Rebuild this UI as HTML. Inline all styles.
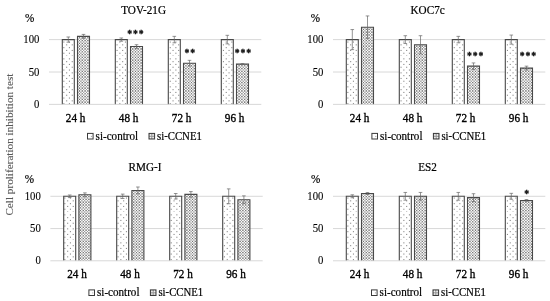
<!DOCTYPE html>
<html><head><meta charset="utf-8"><title>figure</title>
<style>
html,body{margin:0;padding:0;background:#fff;}
svg{display:block}
text{font-family:"Liberation Serif","Times New Roman",serif;font-size:11.2px;fill:#000;stroke:#000;stroke-width:0.2px}
.tk{stroke-width:0.1px}
.xl{stroke-width:0.32px}
.yl{fill:#595959;stroke:#595959;stroke-width:0.1px}
.st{font-weight:bold;font-size:21px;letter-spacing:2px;stroke-width:0.5px}
.g{stroke:#d4d4d4;stroke-width:0.9;fill:none}
.b{stroke:#484848;stroke-width:1.1}
.e{stroke:#666;stroke-width:0.7;fill:none}
.lb{stroke:#3a3a3a;stroke-width:1}
</style></head><body>
<svg width="550" height="301" viewBox="0 0 550 301">
<defs>
<filter id="soft" x="0" y="0" width="550" height="301" filterUnits="userSpaceOnUse"><feGaussianBlur stdDeviation="0.3"/></filter>
<pattern id="p1" width="28.0" height="28.0" patternUnits="userSpaceOnUse"><rect width="28.0" height="28.0" fill="#fff"/><rect x="1.70" y="2.30" width="1.1" height="1.1" fill="#8a8a8a"/><rect x="1.70" y="7.90" width="1.1" height="1.1" fill="#8a8a8a"/><rect x="1.70" y="13.50" width="1.1" height="1.1" fill="#8a8a8a"/><rect x="1.70" y="19.10" width="1.1" height="1.1" fill="#8a8a8a"/><rect x="1.70" y="24.70" width="1.1" height="1.1" fill="#8a8a8a"/><rect x="1.70" y="30.30" width="1.1" height="1.1" fill="#8a8a8a"/><rect x="4.50" y="5.10" width="1.1" height="1.1" fill="#8a8a8a"/><rect x="4.50" y="10.70" width="1.1" height="1.1" fill="#8a8a8a"/><rect x="4.50" y="16.30" width="1.1" height="1.1" fill="#8a8a8a"/><rect x="4.50" y="21.90" width="1.1" height="1.1" fill="#8a8a8a"/><rect x="4.50" y="27.50" width="1.1" height="1.1" fill="#8a8a8a"/><rect x="7.30" y="2.30" width="1.1" height="1.1" fill="#8a8a8a"/><rect x="7.30" y="7.90" width="1.1" height="1.1" fill="#8a8a8a"/><rect x="7.30" y="13.50" width="1.1" height="1.1" fill="#8a8a8a"/><rect x="7.30" y="19.10" width="1.1" height="1.1" fill="#8a8a8a"/><rect x="7.30" y="24.70" width="1.1" height="1.1" fill="#8a8a8a"/><rect x="7.30" y="30.30" width="1.1" height="1.1" fill="#8a8a8a"/><rect x="10.10" y="5.10" width="1.1" height="1.1" fill="#8a8a8a"/><rect x="10.10" y="10.70" width="1.1" height="1.1" fill="#8a8a8a"/><rect x="10.10" y="16.30" width="1.1" height="1.1" fill="#8a8a8a"/><rect x="10.10" y="21.90" width="1.1" height="1.1" fill="#8a8a8a"/><rect x="10.10" y="27.50" width="1.1" height="1.1" fill="#8a8a8a"/><rect x="12.90" y="2.30" width="1.1" height="1.1" fill="#8a8a8a"/><rect x="12.90" y="7.90" width="1.1" height="1.1" fill="#8a8a8a"/><rect x="12.90" y="13.50" width="1.1" height="1.1" fill="#8a8a8a"/><rect x="12.90" y="19.10" width="1.1" height="1.1" fill="#8a8a8a"/><rect x="12.90" y="24.70" width="1.1" height="1.1" fill="#8a8a8a"/><rect x="12.90" y="30.30" width="1.1" height="1.1" fill="#8a8a8a"/><rect x="15.70" y="5.10" width="1.1" height="1.1" fill="#8a8a8a"/><rect x="15.70" y="10.70" width="1.1" height="1.1" fill="#8a8a8a"/><rect x="15.70" y="16.30" width="1.1" height="1.1" fill="#8a8a8a"/><rect x="15.70" y="21.90" width="1.1" height="1.1" fill="#8a8a8a"/><rect x="15.70" y="27.50" width="1.1" height="1.1" fill="#8a8a8a"/><rect x="18.50" y="2.30" width="1.1" height="1.1" fill="#8a8a8a"/><rect x="18.50" y="7.90" width="1.1" height="1.1" fill="#8a8a8a"/><rect x="18.50" y="13.50" width="1.1" height="1.1" fill="#8a8a8a"/><rect x="18.50" y="19.10" width="1.1" height="1.1" fill="#8a8a8a"/><rect x="18.50" y="24.70" width="1.1" height="1.1" fill="#8a8a8a"/><rect x="18.50" y="30.30" width="1.1" height="1.1" fill="#8a8a8a"/><rect x="21.30" y="5.10" width="1.1" height="1.1" fill="#8a8a8a"/><rect x="21.30" y="10.70" width="1.1" height="1.1" fill="#8a8a8a"/><rect x="21.30" y="16.30" width="1.1" height="1.1" fill="#8a8a8a"/><rect x="21.30" y="21.90" width="1.1" height="1.1" fill="#8a8a8a"/><rect x="21.30" y="27.50" width="1.1" height="1.1" fill="#8a8a8a"/><rect x="24.10" y="2.30" width="1.1" height="1.1" fill="#8a8a8a"/><rect x="24.10" y="7.90" width="1.1" height="1.1" fill="#8a8a8a"/><rect x="24.10" y="13.50" width="1.1" height="1.1" fill="#8a8a8a"/><rect x="24.10" y="19.10" width="1.1" height="1.1" fill="#8a8a8a"/><rect x="24.10" y="24.70" width="1.1" height="1.1" fill="#8a8a8a"/><rect x="24.10" y="30.30" width="1.1" height="1.1" fill="#8a8a8a"/><rect x="26.90" y="5.10" width="1.1" height="1.1" fill="#8a8a8a"/><rect x="26.90" y="10.70" width="1.1" height="1.1" fill="#8a8a8a"/><rect x="26.90" y="16.30" width="1.1" height="1.1" fill="#8a8a8a"/><rect x="26.90" y="21.90" width="1.1" height="1.1" fill="#8a8a8a"/><rect x="26.90" y="27.50" width="1.1" height="1.1" fill="#8a8a8a"/><rect x="29.70" y="2.30" width="1.1" height="1.1" fill="#8a8a8a"/><rect x="29.70" y="7.90" width="1.1" height="1.1" fill="#8a8a8a"/><rect x="29.70" y="13.50" width="1.1" height="1.1" fill="#8a8a8a"/><rect x="29.70" y="19.10" width="1.1" height="1.1" fill="#8a8a8a"/><rect x="29.70" y="24.70" width="1.1" height="1.1" fill="#8a8a8a"/><rect x="29.70" y="30.30" width="1.1" height="1.1" fill="#8a8a8a"/></pattern>
<pattern id="p2" width="14.0" height="14.0" patternUnits="userSpaceOnUse"><rect width="14.0" height="14.0" fill="#fff"/><circle cx="-1.70" cy="-1.45" r="0.62" fill="#2e2e2e"/><circle cx="-0.30" cy="-0.05" r="0.5" fill="#8a8a8a"/><circle cx="-1.70" cy="1.35" r="0.62" fill="#2e2e2e"/><circle cx="-0.30" cy="2.75" r="0.5" fill="#8a8a8a"/><circle cx="-1.70" cy="4.15" r="0.62" fill="#2e2e2e"/><circle cx="-0.30" cy="5.55" r="0.5" fill="#8a8a8a"/><circle cx="-1.70" cy="6.95" r="0.62" fill="#2e2e2e"/><circle cx="-0.30" cy="8.35" r="0.5" fill="#8a8a8a"/><circle cx="-1.70" cy="9.75" r="0.62" fill="#2e2e2e"/><circle cx="-0.30" cy="11.15" r="0.5" fill="#8a8a8a"/><circle cx="-1.70" cy="12.55" r="0.62" fill="#2e2e2e"/><circle cx="-0.30" cy="13.95" r="0.5" fill="#8a8a8a"/><circle cx="-1.70" cy="15.35" r="0.62" fill="#2e2e2e"/><circle cx="-0.30" cy="16.75" r="0.5" fill="#8a8a8a"/><circle cx="1.10" cy="-1.45" r="0.62" fill="#2e2e2e"/><circle cx="2.50" cy="-0.05" r="0.5" fill="#8a8a8a"/><circle cx="1.10" cy="1.35" r="0.62" fill="#2e2e2e"/><circle cx="2.50" cy="2.75" r="0.5" fill="#8a8a8a"/><circle cx="1.10" cy="4.15" r="0.62" fill="#2e2e2e"/><circle cx="2.50" cy="5.55" r="0.5" fill="#8a8a8a"/><circle cx="1.10" cy="6.95" r="0.62" fill="#2e2e2e"/><circle cx="2.50" cy="8.35" r="0.5" fill="#8a8a8a"/><circle cx="1.10" cy="9.75" r="0.62" fill="#2e2e2e"/><circle cx="2.50" cy="11.15" r="0.5" fill="#8a8a8a"/><circle cx="1.10" cy="12.55" r="0.62" fill="#2e2e2e"/><circle cx="2.50" cy="13.95" r="0.5" fill="#8a8a8a"/><circle cx="1.10" cy="15.35" r="0.62" fill="#2e2e2e"/><circle cx="2.50" cy="16.75" r="0.5" fill="#8a8a8a"/><circle cx="3.90" cy="-1.45" r="0.62" fill="#2e2e2e"/><circle cx="5.30" cy="-0.05" r="0.5" fill="#8a8a8a"/><circle cx="3.90" cy="1.35" r="0.62" fill="#2e2e2e"/><circle cx="5.30" cy="2.75" r="0.5" fill="#8a8a8a"/><circle cx="3.90" cy="4.15" r="0.62" fill="#2e2e2e"/><circle cx="5.30" cy="5.55" r="0.5" fill="#8a8a8a"/><circle cx="3.90" cy="6.95" r="0.62" fill="#2e2e2e"/><circle cx="5.30" cy="8.35" r="0.5" fill="#8a8a8a"/><circle cx="3.90" cy="9.75" r="0.62" fill="#2e2e2e"/><circle cx="5.30" cy="11.15" r="0.5" fill="#8a8a8a"/><circle cx="3.90" cy="12.55" r="0.62" fill="#2e2e2e"/><circle cx="5.30" cy="13.95" r="0.5" fill="#8a8a8a"/><circle cx="3.90" cy="15.35" r="0.62" fill="#2e2e2e"/><circle cx="5.30" cy="16.75" r="0.5" fill="#8a8a8a"/><circle cx="6.70" cy="-1.45" r="0.62" fill="#2e2e2e"/><circle cx="8.10" cy="-0.05" r="0.5" fill="#8a8a8a"/><circle cx="6.70" cy="1.35" r="0.62" fill="#2e2e2e"/><circle cx="8.10" cy="2.75" r="0.5" fill="#8a8a8a"/><circle cx="6.70" cy="4.15" r="0.62" fill="#2e2e2e"/><circle cx="8.10" cy="5.55" r="0.5" fill="#8a8a8a"/><circle cx="6.70" cy="6.95" r="0.62" fill="#2e2e2e"/><circle cx="8.10" cy="8.35" r="0.5" fill="#8a8a8a"/><circle cx="6.70" cy="9.75" r="0.62" fill="#2e2e2e"/><circle cx="8.10" cy="11.15" r="0.5" fill="#8a8a8a"/><circle cx="6.70" cy="12.55" r="0.62" fill="#2e2e2e"/><circle cx="8.10" cy="13.95" r="0.5" fill="#8a8a8a"/><circle cx="6.70" cy="15.35" r="0.62" fill="#2e2e2e"/><circle cx="8.10" cy="16.75" r="0.5" fill="#8a8a8a"/><circle cx="9.50" cy="-1.45" r="0.62" fill="#2e2e2e"/><circle cx="10.90" cy="-0.05" r="0.5" fill="#8a8a8a"/><circle cx="9.50" cy="1.35" r="0.62" fill="#2e2e2e"/><circle cx="10.90" cy="2.75" r="0.5" fill="#8a8a8a"/><circle cx="9.50" cy="4.15" r="0.62" fill="#2e2e2e"/><circle cx="10.90" cy="5.55" r="0.5" fill="#8a8a8a"/><circle cx="9.50" cy="6.95" r="0.62" fill="#2e2e2e"/><circle cx="10.90" cy="8.35" r="0.5" fill="#8a8a8a"/><circle cx="9.50" cy="9.75" r="0.62" fill="#2e2e2e"/><circle cx="10.90" cy="11.15" r="0.5" fill="#8a8a8a"/><circle cx="9.50" cy="12.55" r="0.62" fill="#2e2e2e"/><circle cx="10.90" cy="13.95" r="0.5" fill="#8a8a8a"/><circle cx="9.50" cy="15.35" r="0.62" fill="#2e2e2e"/><circle cx="10.90" cy="16.75" r="0.5" fill="#8a8a8a"/><circle cx="12.30" cy="-1.45" r="0.62" fill="#2e2e2e"/><circle cx="13.70" cy="-0.05" r="0.5" fill="#8a8a8a"/><circle cx="12.30" cy="1.35" r="0.62" fill="#2e2e2e"/><circle cx="13.70" cy="2.75" r="0.5" fill="#8a8a8a"/><circle cx="12.30" cy="4.15" r="0.62" fill="#2e2e2e"/><circle cx="13.70" cy="5.55" r="0.5" fill="#8a8a8a"/><circle cx="12.30" cy="6.95" r="0.62" fill="#2e2e2e"/><circle cx="13.70" cy="8.35" r="0.5" fill="#8a8a8a"/><circle cx="12.30" cy="9.75" r="0.62" fill="#2e2e2e"/><circle cx="13.70" cy="11.15" r="0.5" fill="#8a8a8a"/><circle cx="12.30" cy="12.55" r="0.62" fill="#2e2e2e"/><circle cx="13.70" cy="13.95" r="0.5" fill="#8a8a8a"/><circle cx="12.30" cy="15.35" r="0.62" fill="#2e2e2e"/><circle cx="13.70" cy="16.75" r="0.5" fill="#8a8a8a"/><circle cx="15.10" cy="-1.45" r="0.62" fill="#2e2e2e"/><circle cx="16.50" cy="-0.05" r="0.5" fill="#8a8a8a"/><circle cx="15.10" cy="1.35" r="0.62" fill="#2e2e2e"/><circle cx="16.50" cy="2.75" r="0.5" fill="#8a8a8a"/><circle cx="15.10" cy="4.15" r="0.62" fill="#2e2e2e"/><circle cx="16.50" cy="5.55" r="0.5" fill="#8a8a8a"/><circle cx="15.10" cy="6.95" r="0.62" fill="#2e2e2e"/><circle cx="16.50" cy="8.35" r="0.5" fill="#8a8a8a"/><circle cx="15.10" cy="9.75" r="0.62" fill="#2e2e2e"/><circle cx="16.50" cy="11.15" r="0.5" fill="#8a8a8a"/><circle cx="15.10" cy="12.55" r="0.62" fill="#2e2e2e"/><circle cx="16.50" cy="13.95" r="0.5" fill="#8a8a8a"/><circle cx="15.10" cy="15.35" r="0.62" fill="#2e2e2e"/><circle cx="16.50" cy="16.75" r="0.5" fill="#8a8a8a"/><path d="M-17.05 0 l14.0 14.0" stroke="#8e8e8e" stroke-width="0.42"/><path d="M-14.35 0 l-14.0 14.0" stroke="#8e8e8e" stroke-width="0.42"/><path d="M-14.25 0 l14.0 14.0" stroke="#8e8e8e" stroke-width="0.42"/><path d="M-11.55 0 l-14.0 14.0" stroke="#8e8e8e" stroke-width="0.42"/><path d="M-11.45 0 l14.0 14.0" stroke="#8e8e8e" stroke-width="0.42"/><path d="M-8.75 0 l-14.0 14.0" stroke="#8e8e8e" stroke-width="0.42"/><path d="M-8.65 0 l14.0 14.0" stroke="#8e8e8e" stroke-width="0.42"/><path d="M-5.95 0 l-14.0 14.0" stroke="#8e8e8e" stroke-width="0.42"/><path d="M-5.85 0 l14.0 14.0" stroke="#8e8e8e" stroke-width="0.42"/><path d="M-3.15 0 l-14.0 14.0" stroke="#8e8e8e" stroke-width="0.42"/><path d="M-3.05 0 l14.0 14.0" stroke="#8e8e8e" stroke-width="0.42"/><path d="M-0.35 0 l-14.0 14.0" stroke="#8e8e8e" stroke-width="0.42"/><path d="M-0.25 0 l14.0 14.0" stroke="#8e8e8e" stroke-width="0.42"/><path d="M2.45 0 l-14.0 14.0" stroke="#8e8e8e" stroke-width="0.42"/><path d="M2.55 0 l14.0 14.0" stroke="#8e8e8e" stroke-width="0.42"/><path d="M5.25 0 l-14.0 14.0" stroke="#8e8e8e" stroke-width="0.42"/><path d="M5.35 0 l14.0 14.0" stroke="#8e8e8e" stroke-width="0.42"/><path d="M8.05 0 l-14.0 14.0" stroke="#8e8e8e" stroke-width="0.42"/><path d="M8.15 0 l14.0 14.0" stroke="#8e8e8e" stroke-width="0.42"/><path d="M10.85 0 l-14.0 14.0" stroke="#8e8e8e" stroke-width="0.42"/><path d="M10.95 0 l14.0 14.0" stroke="#8e8e8e" stroke-width="0.42"/><path d="M13.65 0 l-14.0 14.0" stroke="#8e8e8e" stroke-width="0.42"/><path d="M13.75 0 l14.0 14.0" stroke="#8e8e8e" stroke-width="0.42"/><path d="M16.45 0 l-14.0 14.0" stroke="#8e8e8e" stroke-width="0.42"/><path d="M16.55 0 l14.0 14.0" stroke="#8e8e8e" stroke-width="0.42"/><path d="M19.25 0 l-14.0 14.0" stroke="#8e8e8e" stroke-width="0.42"/><path d="M19.35 0 l14.0 14.0" stroke="#8e8e8e" stroke-width="0.42"/><path d="M22.05 0 l-14.0 14.0" stroke="#8e8e8e" stroke-width="0.42"/><path d="M22.15 0 l14.0 14.0" stroke="#8e8e8e" stroke-width="0.42"/><path d="M24.85 0 l-14.0 14.0" stroke="#8e8e8e" stroke-width="0.42"/><path d="M24.95 0 l14.0 14.0" stroke="#8e8e8e" stroke-width="0.42"/><path d="M27.65 0 l-14.0 14.0" stroke="#8e8e8e" stroke-width="0.42"/><path d="M27.75 0 l14.0 14.0" stroke="#8e8e8e" stroke-width="0.42"/><path d="M30.45 0 l-14.0 14.0" stroke="#8e8e8e" stroke-width="0.42"/><path d="M30.55 0 l14.0 14.0" stroke="#8e8e8e" stroke-width="0.42"/><path d="M33.25 0 l-14.0 14.0" stroke="#8e8e8e" stroke-width="0.42"/></pattern>
</defs>
<rect width="550" height="301" fill="#fff"/>
<g filter="url(#soft)">

<text transform="translate(12.8,144.6) rotate(-90)" text-anchor="middle" class="yl">Cell proliferation inhibition test</text>
<g transform="translate(0,0)">
<line class="g" x1="49.00" x2="261.30" y1="72.00" y2="72.00"/>
<line class="g" x1="49.00" x2="261.30" y1="39.60" y2="39.60"/>
<rect x="62.30" y="39.60" width="12.0" height="64.80" fill="url(#p1)"/>
<rect x="77.50" y="36.36" width="12.0" height="68.04" fill="url(#p2)"/>
<rect x="115.30" y="39.60" width="12.0" height="64.80" fill="url(#p1)"/>
<rect x="130.50" y="46.53" width="12.0" height="57.87" fill="url(#p2)"/>
<rect x="168.30" y="39.60" width="12.0" height="64.80" fill="url(#p1)"/>
<rect x="183.50" y="63.19" width="12.0" height="41.21" fill="url(#p2)"/>
<rect x="221.30" y="39.60" width="12.0" height="64.80" fill="url(#p1)"/>
<rect x="236.50" y="64.09" width="12.0" height="40.31" fill="url(#p2)"/>
<g transform="translate(0.00,0.00)">
<text transform="translate(39.40,107.95) scale(0.96,1.03)" text-anchor="end" class="tk">0</text>
<text transform="translate(39.40,75.55) scale(0.96,1.03)" text-anchor="end" class="tk">50</text>
<text transform="translate(39.40,43.15) scale(0.96,1.03)" text-anchor="end" class="tk">100</text>
<text transform="translate(25.00,21.80) scale(1.0,1.08)" text-anchor="start">%</text>
<text transform="translate(143.60,14.00) scale(1.0,1.08)" text-anchor="middle">TOV-21G</text>
<path class="b" fill="none" d="M62.30 104.40V39.60H74.30V104.40"/>
<path class="e" d="M68.30 37.01V42.19M66.50 37.01H70.10M66.50 42.19H70.10"/>
<path class="b" fill="none" d="M77.50 104.40V36.36H89.50V104.40"/>
<path class="e" d="M83.50 34.42V38.30M81.70 34.42H85.30M81.70 38.30H85.30"/>
<text transform="translate(75.60,121.60) scale(1.0,1.08)" text-anchor="middle" class="xl">24 h</text>
<path class="b" fill="none" d="M115.30 104.40V39.60H127.30V104.40"/>
<path class="e" d="M121.30 37.98V41.22M119.50 37.98H123.10M119.50 41.22H123.10"/>
<path class="b" fill="none" d="M130.50 104.40V46.53H142.50V104.40"/>
<path class="e" d="M136.50 44.72V48.35M134.70 44.72H138.30M134.70 48.35H138.30"/>
<text transform="translate(128.60,121.60) scale(1.0,1.08)" text-anchor="middle" class="xl">48 h</text>
<path class="b" fill="none" d="M168.30 104.40V39.60H180.30V104.40"/>
<path class="e" d="M174.30 36.36V42.84M172.50 36.36H176.10M172.50 42.84H176.10"/>
<path class="b" fill="none" d="M183.50 104.40V63.19H195.50V104.40"/>
<path class="e" d="M189.50 60.34V66.04M187.70 60.34H191.30M187.70 66.04H191.30"/>
<text transform="translate(181.60,121.60) scale(1.0,1.08)" text-anchor="middle" class="xl">72 h</text>
<path class="b" fill="none" d="M221.30 104.40V39.60H233.30V104.40"/>
<path class="e" d="M227.30 35.32V43.88M225.50 35.32H229.10M225.50 43.88H229.10"/>
<path class="b" fill="none" d="M236.50 104.40V64.09H248.50V104.40"/>
<path class="e" d="M242.50 63.58V64.61M240.70 63.58H244.30M240.70 64.61H244.30"/>
<text transform="translate(234.60,121.60) scale(1.0,1.08)" text-anchor="middle" class="xl">96 h</text>
<line class="g" x1="49" x2="261.3" y1="104.40" y2="104.40"/>
<text transform="translate(135.84,37.25) scale(0.46,0.54)" text-anchor="middle" class="st">***</text>
<text transform="translate(190.32,56.05) scale(0.46,0.54)" text-anchor="middle" class="st">**</text>
<text transform="translate(243.44,56.45) scale(0.46,0.54)" text-anchor="middle" class="st">***</text>
<g transform="translate(0,0)">
<rect class="lb" x="87.5" y="133.4" width="5.6" height="5.6" fill="#fff"/>
<rect x="90.9" y="135.9" width="1" height="1" fill="#999"/>
<text transform="translate(95.60,139.80) scale(0.99,1.08)" text-anchor="start">si-control</text>
<rect class="lb" x="149.0" y="133.4" width="5.6" height="5.6" fill="#999"/>
<circle cx="150.5" cy="134.9" r="0.85" fill="#f4f4f4"/>
<circle cx="153.1" cy="134.9" r="0.85" fill="#f4f4f4"/>
<circle cx="150.5" cy="137.5" r="0.85" fill="#f4f4f4"/>
<circle cx="153.1" cy="137.5" r="0.85" fill="#f4f4f4"/>
<text transform="translate(157.00,139.80) scale(0.962,1.08)" text-anchor="start">si-CCNE1</text>
</g>
</g>
</g>
<g transform="translate(284,0)">
<line class="g" x1="49.00" x2="261.30" y1="72.00" y2="72.00"/>
<line class="g" x1="49.00" x2="261.30" y1="39.60" y2="39.60"/>
<rect x="62.30" y="39.60" width="12.0" height="64.80" fill="url(#p1)"/>
<rect x="77.50" y="27.29" width="12.0" height="77.11" fill="url(#p2)"/>
<rect x="115.30" y="39.60" width="12.0" height="64.80" fill="url(#p1)"/>
<rect x="130.50" y="44.78" width="12.0" height="59.62" fill="url(#p2)"/>
<rect x="168.30" y="39.60" width="12.0" height="64.80" fill="url(#p1)"/>
<rect x="183.50" y="66.17" width="12.0" height="38.23" fill="url(#p2)"/>
<rect x="221.30" y="39.60" width="12.0" height="64.80" fill="url(#p1)"/>
<rect x="236.50" y="68.11" width="12.0" height="36.29" fill="url(#p2)"/>
<g transform="translate(0.00,0.00)">
<text transform="translate(39.40,107.95) scale(0.96,1.03)" text-anchor="end" class="tk">0</text>
<text transform="translate(39.40,75.55) scale(0.96,1.03)" text-anchor="end" class="tk">50</text>
<text transform="translate(39.40,43.15) scale(0.96,1.03)" text-anchor="end" class="tk">100</text>
<text transform="translate(26.80,22.30) scale(1.0,1.08)" text-anchor="start">%</text>
<text transform="translate(143.60,14.00) scale(1.0,1.08)" text-anchor="middle">KOC7c</text>
<path class="b" fill="none" d="M62.30 104.40V39.60H74.30V104.40"/>
<path class="e" d="M68.30 29.56V49.64M66.50 29.56H70.10M66.50 49.64H70.10"/>
<path class="b" fill="none" d="M77.50 104.40V27.29H89.50V104.40"/>
<path class="e" d="M83.50 15.95V38.63M81.70 15.95H85.30M81.70 38.63H85.30"/>
<text transform="translate(75.60,121.60) scale(1.0,1.08)" text-anchor="middle" class="xl">24 h</text>
<path class="b" fill="none" d="M115.30 104.40V39.60H127.30V104.40"/>
<path class="e" d="M121.30 35.71V43.49M119.50 35.71H123.10M119.50 43.49H123.10"/>
<path class="b" fill="none" d="M130.50 104.40V44.78H142.50V104.40"/>
<path class="e" d="M136.50 35.71V53.86M134.70 35.71H138.30M134.70 53.86H138.30"/>
<text transform="translate(128.60,121.60) scale(1.0,1.08)" text-anchor="middle" class="xl">48 h</text>
<path class="b" fill="none" d="M168.30 104.40V39.60H180.30V104.40"/>
<path class="e" d="M174.30 36.36V42.84M172.50 36.36H176.10M172.50 42.84H176.10"/>
<path class="b" fill="none" d="M183.50 104.40V66.17H195.50V104.40"/>
<path class="e" d="M189.50 62.93V69.41M187.70 62.93H191.30M187.70 69.41H191.30"/>
<text transform="translate(181.60,121.60) scale(1.0,1.08)" text-anchor="middle" class="xl">72 h</text>
<path class="b" fill="none" d="M221.30 104.40V39.60H233.30V104.40"/>
<path class="e" d="M227.30 35.06V44.14M225.50 35.06H229.10M225.50 44.14H229.10"/>
<path class="b" fill="none" d="M236.50 104.40V68.11H248.50V104.40"/>
<path class="e" d="M242.50 66.17V70.06M240.70 66.17H244.30M240.70 70.06H244.30"/>
<text transform="translate(234.60,121.60) scale(1.0,1.08)" text-anchor="middle" class="xl">96 h</text>
<line class="g" x1="49" x2="261.3" y1="104.40" y2="104.40"/>
<text transform="translate(191.54,59.45) scale(0.46,0.54)" text-anchor="middle" class="st">***</text>
<text transform="translate(244.34,59.45) scale(0.46,0.54)" text-anchor="middle" class="st">***</text>
<g transform="translate(0.4,0)">
<rect class="lb" x="87.5" y="133.4" width="5.6" height="5.6" fill="#fff"/>
<rect x="90.9" y="135.9" width="1" height="1" fill="#999"/>
<text transform="translate(95.60,139.80) scale(0.99,1.08)" text-anchor="start">si-control</text>
<rect class="lb" x="149.0" y="133.4" width="5.6" height="5.6" fill="#999"/>
<circle cx="150.5" cy="134.9" r="0.85" fill="#f4f4f4"/>
<circle cx="153.1" cy="134.9" r="0.85" fill="#f4f4f4"/>
<circle cx="150.5" cy="137.5" r="0.85" fill="#f4f4f4"/>
<circle cx="153.1" cy="137.5" r="0.85" fill="#f4f4f4"/>
<text transform="translate(157.00,139.80) scale(0.962,1.08)" text-anchor="start">si-CCNE1</text>
</g>
</g>
</g>
<g transform="translate(1,156)">
<line class="g" x1="49.40" x2="261.70" y1="72.55" y2="72.55"/>
<line class="g" x1="49.40" x2="261.70" y1="40.30" y2="40.30"/>
<rect x="62.70" y="40.30" width="12.0" height="64.50" fill="url(#p1)"/>
<rect x="77.90" y="38.82" width="12.0" height="65.98" fill="url(#p2)"/>
<rect x="115.70" y="40.30" width="12.0" height="64.50" fill="url(#p1)"/>
<rect x="130.90" y="34.43" width="12.0" height="70.37" fill="url(#p2)"/>
<rect x="168.70" y="40.30" width="12.0" height="64.50" fill="url(#p1)"/>
<rect x="183.90" y="38.36" width="12.0" height="66.44" fill="url(#p2)"/>
<rect x="221.70" y="40.30" width="12.0" height="64.50" fill="url(#p1)"/>
<rect x="236.90" y="43.72" width="12.0" height="61.08" fill="url(#p2)"/>
<g transform="translate(0.40,0.50)">
<text transform="translate(39.40,107.85) scale(0.96,1.03)" text-anchor="end" class="tk">0</text>
<text transform="translate(39.40,75.60) scale(0.96,1.03)" text-anchor="end" class="tk">50</text>
<text transform="translate(39.40,43.35) scale(0.96,1.03)" text-anchor="end" class="tk">100</text>
<text transform="translate(23.30,26.00) scale(1.0,1.08)" text-anchor="start">%</text>
<text transform="translate(143.60,14.00) scale(1.0,1.08)" text-anchor="middle">RMG-I</text>
<path class="b" fill="none" d="M62.30 104.30V39.80H74.30V104.30"/>
<path class="e" d="M68.30 38.51V41.09M66.50 38.51H70.10M66.50 41.09H70.10"/>
<path class="b" fill="none" d="M77.50 104.30V38.32H89.50V104.30"/>
<path class="e" d="M83.50 36.38V40.25M81.70 36.38H85.30M81.70 40.25H85.30"/>
<text transform="translate(75.60,121.60) scale(1.0,1.08)" text-anchor="middle" class="xl">24 h</text>
<path class="b" fill="none" d="M115.30 104.30V39.80H127.30V104.30"/>
<path class="e" d="M121.30 37.61V41.99M119.50 37.61H123.10M119.50 41.99H123.10"/>
<path class="b" fill="none" d="M130.50 104.30V33.93H142.50V104.30"/>
<path class="e" d="M136.50 30.51V37.35M134.70 30.51H138.30M134.70 37.35H138.30"/>
<text transform="translate(128.60,121.60) scale(1.0,1.08)" text-anchor="middle" class="xl">48 h</text>
<path class="b" fill="none" d="M168.30 104.30V39.80H180.30V104.30"/>
<path class="e" d="M174.30 37.03V42.57M172.50 37.03H176.10M172.50 42.57H176.10"/>
<path class="b" fill="none" d="M183.50 104.30V37.86H195.50V104.30"/>
<path class="e" d="M189.50 35.09V40.64M187.70 35.09H191.30M187.70 40.64H191.30"/>
<text transform="translate(181.60,121.60) scale(1.0,1.08)" text-anchor="middle" class="xl">72 h</text>
<path class="b" fill="none" d="M221.30 104.30V39.80H233.30V104.30"/>
<path class="e" d="M227.30 32.38V47.22M225.50 32.38H229.10M225.50 47.22H229.10"/>
<path class="b" fill="none" d="M236.50 104.30V43.22H248.50V104.30"/>
<path class="e" d="M242.50 39.35V47.09M240.70 39.35H244.30M240.70 47.09H244.30"/>
<text transform="translate(234.60,121.60) scale(1.0,1.08)" text-anchor="middle" class="xl">96 h</text>
<line class="g" x1="49" x2="261.3" y1="104.30" y2="104.30"/>
<g transform="translate(0,0)">
<rect class="lb" x="87.5" y="133.4" width="5.6" height="5.6" fill="#fff"/>
<rect x="90.9" y="135.9" width="1" height="1" fill="#999"/>
<text transform="translate(95.60,139.80) scale(0.99,1.08)" text-anchor="start">si-control</text>
<rect class="lb" x="149.0" y="133.4" width="5.6" height="5.6" fill="#999"/>
<circle cx="150.5" cy="134.9" r="0.85" fill="#f4f4f4"/>
<circle cx="153.1" cy="134.9" r="0.85" fill="#f4f4f4"/>
<circle cx="150.5" cy="137.5" r="0.85" fill="#f4f4f4"/>
<circle cx="153.1" cy="137.5" r="0.85" fill="#f4f4f4"/>
<text transform="translate(157.00,139.80) scale(0.962,1.08)" text-anchor="start">si-CCNE1</text>
</g>
</g>
</g>
<g transform="translate(284,156)">
<line class="g" x1="49.00" x2="261.30" y1="72.55" y2="72.55"/>
<line class="g" x1="49.00" x2="261.30" y1="40.30" y2="40.30"/>
<rect x="62.30" y="40.30" width="12.0" height="64.50" fill="url(#p1)"/>
<rect x="77.50" y="37.53" width="12.0" height="67.27" fill="url(#p2)"/>
<rect x="115.30" y="40.30" width="12.0" height="64.50" fill="url(#p1)"/>
<rect x="130.50" y="40.30" width="12.0" height="64.50" fill="url(#p2)"/>
<rect x="168.30" y="40.30" width="12.0" height="64.50" fill="url(#p1)"/>
<rect x="183.50" y="41.59" width="12.0" height="63.21" fill="url(#p2)"/>
<rect x="221.30" y="40.30" width="12.0" height="64.50" fill="url(#p1)"/>
<rect x="236.50" y="44.43" width="12.0" height="60.37" fill="url(#p2)"/>
<g transform="translate(0.00,0.50)">
<text transform="translate(39.40,107.85) scale(0.96,1.03)" text-anchor="end" class="tk">0</text>
<text transform="translate(39.40,75.60) scale(0.96,1.03)" text-anchor="end" class="tk">50</text>
<text transform="translate(39.40,43.35) scale(0.96,1.03)" text-anchor="end" class="tk">100</text>
<text transform="translate(27.10,26.00) scale(1.0,1.08)" text-anchor="start">%</text>
<text transform="translate(143.60,14.00) scale(1.0,1.08)" text-anchor="middle">ES2</text>
<path class="b" fill="none" d="M62.30 104.30V39.80H74.30V104.30"/>
<path class="e" d="M68.30 38.32V41.28M66.50 38.32H70.10M66.50 41.28H70.10"/>
<path class="b" fill="none" d="M77.50 104.30V37.03H89.50V104.30"/>
<path class="e" d="M83.50 36.06V37.99M81.70 36.06H85.30M81.70 37.99H85.30"/>
<text transform="translate(75.60,121.60) scale(1.0,1.08)" text-anchor="middle" class="xl">24 h</text>
<path class="b" fill="none" d="M115.30 104.30V39.80H127.30V104.30"/>
<path class="e" d="M121.30 35.93V43.67M119.50 35.93H123.10M119.50 43.67H123.10"/>
<path class="b" fill="none" d="M130.50 104.30V39.80H142.50V104.30"/>
<path class="e" d="M136.50 35.93V43.67M134.70 35.93H138.30M134.70 43.67H138.30"/>
<text transform="translate(128.60,121.60) scale(1.0,1.08)" text-anchor="middle" class="xl">48 h</text>
<path class="b" fill="none" d="M168.30 104.30V39.80H180.30V104.30"/>
<path class="e" d="M174.30 35.93V43.67M172.50 35.93H176.10M172.50 43.67H176.10"/>
<path class="b" fill="none" d="M183.50 104.30V41.09H195.50V104.30"/>
<path class="e" d="M189.50 37.22V44.96M187.70 37.22H191.30M187.70 44.96H191.30"/>
<text transform="translate(181.60,121.60) scale(1.0,1.08)" text-anchor="middle" class="xl">72 h</text>
<path class="b" fill="none" d="M221.30 104.30V39.80H233.30V104.30"/>
<path class="e" d="M227.30 36.83V42.77M225.50 36.83H229.10M225.50 42.77H229.10"/>
<path class="b" fill="none" d="M236.50 104.30V43.93H248.50V104.30"/>
<path class="e" d="M242.50 43.09V44.77M240.70 43.09H244.30M240.70 44.77H244.30"/>
<text transform="translate(234.60,121.60) scale(1.0,1.08)" text-anchor="middle" class="xl">96 h</text>
<line class="g" x1="49" x2="261.3" y1="104.30" y2="104.30"/>
<text transform="translate(243.10,40.45) scale(0.46,0.54)" text-anchor="middle" class="st">*</text>
<g transform="translate(0,0)">
<rect class="lb" x="87.5" y="133.4" width="5.6" height="5.6" fill="#fff"/>
<rect x="90.9" y="135.9" width="1" height="1" fill="#999"/>
<text transform="translate(95.60,139.80) scale(0.99,1.08)" text-anchor="start">si-control</text>
<rect class="lb" x="149.0" y="133.4" width="5.6" height="5.6" fill="#999"/>
<circle cx="150.5" cy="134.9" r="0.85" fill="#f4f4f4"/>
<circle cx="153.1" cy="134.9" r="0.85" fill="#f4f4f4"/>
<circle cx="150.5" cy="137.5" r="0.85" fill="#f4f4f4"/>
<circle cx="153.1" cy="137.5" r="0.85" fill="#f4f4f4"/>
<text transform="translate(157.00,139.80) scale(0.962,1.08)" text-anchor="start">si-CCNE1</text>
</g>
</g>
</g>
</g>
</svg></body></html>
